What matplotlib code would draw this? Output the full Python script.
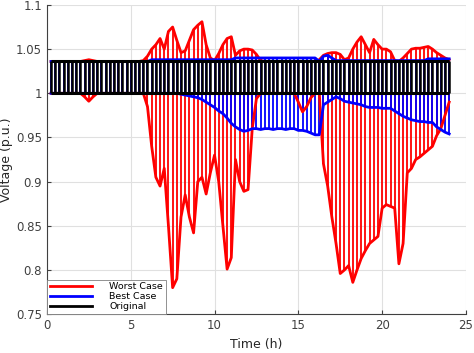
import matplotlib
matplotlib.use("Agg")
import matplotlib.pyplot as plt
import numpy as np
from matplotlib.lines import Line2D
from matplotlib.ticker import FuncFormatter

# 15 min steps over the day
t = np.arange(1, 97) * 0.25

# worst case envelope (upper / lower), one row per hour
worst_hi = [1.036, 1.036, 1.036, 1.036,
            1.036, 1.036, 1.036, 1.036,
            1.037, 1.038, 1.037, 1.036,
            1.036, 1.036, 1.036, 1.036,
            1.036, 1.036, 1.036, 1.036,
            1.036, 1.036, 1.037, 1.042,
            1.050, 1.055, 1.062, 1.050,
            1.070, 1.075, 1.060, 1.046,
            1.048, 1.060, 1.072, 1.077,
            1.081, 1.055, 1.040, 1.037,
            1.045, 1.055, 1.062, 1.064,
            1.043, 1.048, 1.050, 1.050,
            1.049, 1.044, 1.037, 1.036,
            1.036, 1.036, 1.036, 1.036,
            1.036, 1.036, 1.036, 1.036,
            1.036, 1.036, 1.036, 1.036,
            1.038, 1.043, 1.045, 1.046,
            1.046, 1.044, 1.038, 1.040,
            1.050, 1.058, 1.064, 1.055,
            1.046, 1.061, 1.055, 1.050,
            1.050, 1.047, 1.037, 1.036,
            1.040, 1.045, 1.050, 1.051,
            1.051, 1.052, 1.053, 1.050,
            1.046, 1.043, 1.040, 1.038]
worst_lo = [1.000, 1.000, 1.000, 1.000,
            1.000, 1.000, 1.000, 1.000,
            0.996, 0.991, 0.996, 1.000,
            1.000, 1.000, 1.000, 1.000,
            1.000, 1.000, 1.000, 1.000,
            1.000, 1.000, 1.000, 0.985,
            0.940, 0.905, 0.895, 0.915,
            0.850, 0.780, 0.790, 0.860,
            0.885, 0.860, 0.842, 0.900,
            0.905, 0.886, 0.910, 0.930,
            0.900, 0.850, 0.801, 0.814,
            0.925, 0.900, 0.889, 0.891,
            0.960, 0.994, 1.000, 1.000,
            1.000, 1.000, 1.000, 1.000,
            1.000, 1.000, 1.000, 0.990,
            0.979, 0.985, 0.995, 1.000,
            1.000, 0.920, 0.895, 0.860,
            0.830, 0.796, 0.800, 0.805,
            0.786, 0.800, 0.813, 0.822,
            0.830, 0.834, 0.838, 0.870,
            0.874, 0.872, 0.870, 0.807,
            0.830, 0.910, 0.915, 0.925,
            0.928, 0.932, 0.936, 0.940,
            0.952, 0.960, 0.975, 0.990]

# best case envelope
best_hi = [1.036] * 24 + [1.038] * 20 + [1.040] * 20 + \
          [1.036, 1.042, 1.043, 1.040] + [1.037] * 22 + [1.039] * 6
best_lo = [1.000] * 28 + \
          [1.000, 1.000, 1.000, 0.999,
           0.998, 0.997, 0.996, 0.995,
           0.993, 0.990, 0.987, 0.984,
           0.980, 0.977, 0.972, 0.966,
           0.962, 0.959, 0.957, 0.958,
           0.960, 0.960, 0.959, 0.960,
           0.960, 0.959, 0.960, 0.960,
           0.959, 0.960, 0.960, 0.958,
           0.958, 0.957, 0.955, 0.953,
           0.953, 0.987, 0.990, 0.993,
           0.996, 0.994, 0.991, 0.990,
           0.989, 0.988, 0.987, 0.985,
           0.984, 0.984, 0.984, 0.983,
           0.983, 0.983, 0.980, 0.977,
           0.974, 0.972, 0.970, 0.969,
           0.968, 0.968, 0.967, 0.967,
           0.962, 0.959, 0.956, 0.954]

# original case
orig_hi = 1.036
orig_lo = 1.000

labels = ["Worst Case", "Best Case", "Original"]
colors = ["#ff0000", "#0000ff", "#000000"]

fig = plt.figure(figsize=(4.74, 3.53), dpi=100)
ax = fig.add_axes([0.099, 0.11, 0.884, 0.876])

ax.vlines(t, worst_lo, worst_hi, color=colors[0], lw=1.3, zorder=2)
ax.vlines(t, best_lo, best_hi, color=colors[1], lw=1.3, zorder=3)
ax.plot(t, worst_hi, color=colors[0], lw=2, zorder=4)
ax.plot(t, worst_lo, color=colors[0], lw=2, zorder=4)
ax.plot(t, best_hi, color=colors[1], lw=2, zorder=5)
ax.plot(t, best_lo, color=colors[1], lw=2, zorder=5)
ax.vlines(t, orig_lo, orig_hi, color=colors[2], lw=1.8, zorder=6)
ax.hlines([orig_lo, orig_hi], t[0], t[-1], color=colors[2], lw=2.2, zorder=6)

ax.set_xlim(0, 25)
ax.set_ylim(0.75, 1.1)
ax.set_xticks(np.arange(0, 26, 5))
ax.set_yticks(np.arange(0.75, 1.101, 0.05))
ax.yaxis.set_major_formatter(FuncFormatter(lambda v, p: "%g" % round(v, 2)))
ax.grid(True, color="#e0e0e0", lw=0.8)
ax.set_axisbelow(True)
for s in ["top", "right"]:
    ax.spines[s].set_visible(False)
for s in ["left", "bottom"]:
    ax.spines[s].set_color("#404040")
ax.tick_params(direction="in", labelsize=8.5, colors="#404040", length=3)
ax.set_xlabel("Time (h)", fontsize=9, color="#262626", labelpad=4)
ax.set_ylabel("Voltage (p.u.)", fontsize=9, color="#262626", labelpad=2)

handles = [Line2D([], [], color=c, lw=2) for c in colors]
leg = ax.legend(handles, labels, loc="lower left", fontsize=6.8, fancybox=False,
                framealpha=1, edgecolor="#808080", borderaxespad=0,
                handlelength=4.5, labelspacing=0.1, handletextpad=1.8,
                borderpad=0.3)
leg.get_frame().set_linewidth(0.6)

fig.savefig("out.png", dpi=100)
